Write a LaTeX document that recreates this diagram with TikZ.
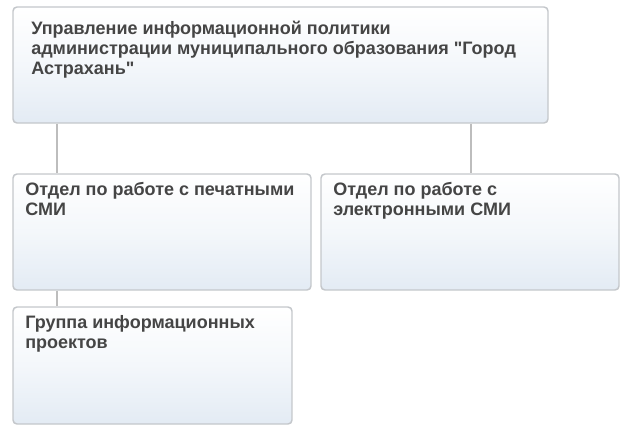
\documentclass[tikz,border=0pt]{standalone}
\usepackage{fontspec}
\newfontfamily\orgfont{Liberation Sans}
\definecolor{boxborder}{HTML}{C4C7CB}
\definecolor{boxbot}{HTML}{E3EBF4}
\definecolor{txt}{HTML}{454545}
\definecolor{conn}{HTML}{BDBDBD}
\tikzset{
  orgbox/.style={draw=boxborder, line width=1.1pt, rounded corners=3pt, top color=white, bottom color=boxbot, middle color=white!60!boxbot, inner sep=0pt},
  orgtext/.style={anchor=base west, inner sep=0pt, text=txt, font=\orgfont\fontsize{13.5}{15}\selectfont\bfseries},
  connline/.style={draw=conn, line width=1.6pt}
}
\begin{document}
\begin{tikzpicture}[x=0.75pt,y=-0.75pt]
\useasboundingbox (0,0) rectangle (635,428);
\node[orgbox, minimum width=535*0.75pt, minimum height=116*0.75pt] (top) at (280.5,65) {};
\node[orgbox, minimum width=298*0.75pt, minimum height=116*0.75pt] (left) at (162,232) {};
\node[orgbox, minimum width=298*0.75pt, minimum height=116*0.75pt] (right) at (470,232) {};
\node[orgbox, minimum width=279*0.75pt, minimum height=117*0.75pt] (bottom) at (152.5,365.5) {};
\draw[connline] ([xshift=45*0.75pt]top.south west) -- ([xshift=45*0.75pt]left.north west);
\draw[connline] ([xshift=1*0.75pt]right.north |- top.south) -- ([xshift=1*0.75pt]right.north);
\draw[connline] ([xshift=45*0.75pt]left.south west) -- ([xshift=45*0.75pt]bottom.north west);
\node[orgtext] (toptext) at (31,35) {\vtop{\hbox{Управление информационной политики}\hbox{администрации муниципального образования "Город}\hbox{Астрахань"}}};
\node[orgtext] (lefttext) at (25,195) {\vtop{\hbox{Отдел по работе с печатными}\hbox{СМИ}}};
\node[orgtext] (righttext) at (333,195) {\vtop{\hbox{Отдел по работе с}\hbox{электронными СМИ}}};
\node[orgtext] (bottomtext) at (25,328) {\vtop{\hbox{Группа информационных}\hbox{проектов}}};
\end{tikzpicture}
\end{document}
